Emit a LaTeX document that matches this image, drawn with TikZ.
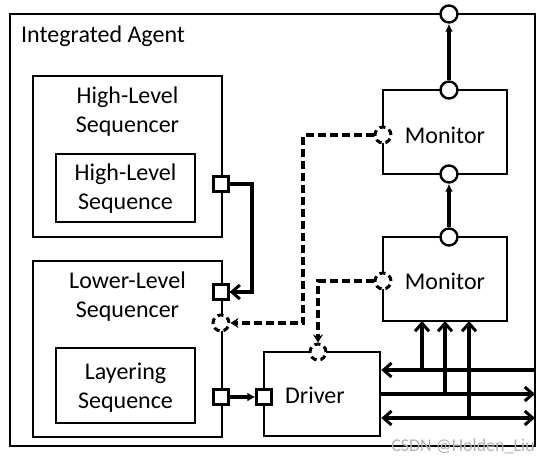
\documentclass[tikz,border=0pt]{standalone}
\usepackage{fontspec}
\setmainfont{Carlito}
\usetikzlibrary{arrows.meta}

\tikzset{
    box/.style={draw, line width=2.5pt, rectangle, inner sep=0pt},
    txt/.style={align=center, font=\fontsize{24}{29}\selectfont, inner sep=0pt},
    port/.style={draw, line width=2.2pt, fill=white, minimum size=15pt, inner sep=0pt},
    pin/.style={draw, circle, line width=2.4pt, fill=white, minimum size=17pt, inner sep=0pt},
    dpin/.style={pin, dash pattern=on 6pt off 4pt, line width=3pt, minimum size=16pt},
    flow/.style={line width=3.4pt},
    dflow/.style={line width=3.2pt, dash pattern=on 8pt off 4pt},
    barb/.style={-{Straight Barb[length=8pt,width=14pt,line width=3pt]}},
    dbarb/.style={{Straight Barb[length=8pt,width=14pt,line width=3pt]}-{Straight Barb[length=8pt,width=14pt,line width=3pt]}}
}

\begin{document}
\begin{tikzpicture}[x=1pt, y=-1pt]
    \useasboundingbox (0,0) rectangle (551,458);

    % Boxes
    \node[box, minimum width=525pt, minimum height=432pt] (agent) at (272.5,230) {};
    \node[txt, anchor=west] (agentlab) at (21,36) {Integrated Agent};

    \node[box, minimum width=189pt, minimum height=161pt] (hls) at (127.5,156.5) {};
    \node[txt] (hlslab) at (127.5,112) {High-Level\\Sequencer};
    \node[box, minimum width=139pt, minimum height=68pt] (hlseq) at (125.5,188) {};
    \node[txt] (hlseqlab) at (125.5,189) {High-Level\\Sequence};

    \node[box, minimum width=189pt, minimum height=176pt] (lls) at (127.5,349) {};
    \node[txt] (llslab) at (127.5,296.5) {Lower-Level\\Sequencer};
    \node[box, minimum width=139pt, minimum height=75pt] (layer) at (125.5,385.5) {};
    \node[txt] (layerlab) at (125.5,387.5) {Layering\\Sequence};

    \node[box, minimum width=116pt, minimum height=84pt] (drv) at (322,394) {};
    \node[txt] (drvlab) at (315,395) {Driver};

    \node[box, minimum width=124pt, minimum height=84pt] (mon1) at (445,132) {};
    \node[txt] (mon1lab) at (445,135) {Monitor};
    \node[box, minimum width=124pt, minimum height=84pt] (mon2) at (445,279) {};
    \node[txt] (mon2lab) at (445,281) {Monitor};

    % Bus ends on the agent border
    \coordinate (bus1) at (535,370);
    \coordinate (bus2) at (535,394);
    \coordinate (bus3) at (535,418);

    % Bus lines
    \draw[flow, barb] (bus1) -- (drv.east |- bus1);
    \draw[flow, barb] (drv.east |- bus2) -- (bus2);
    \draw[flow, dbarb] (drv.east |- bus3) -- (bus3);
    \foreach \xx/\yy in {422/370, 445/396, 469/418} {
        \draw[flow, barb] (\xx,\yy) -- (\xx,321);
    }

    % Ports
    \node[port] (hlsport) at (221,184) {};
    \node[port] (llsin) at (221,292) {};
    \node[port] (llsout) at (221,397) {};
    \node[port] (drvin) at (264,397) {};
    \node[dpin] (llsdp) at (221,323) {};
    \node[dpin] (drvdp) at (318,352) {};
    \node[dpin] (mon1dp) at (383,135) {};
    \node[dpin] (mon2dp) at (383,281) {};
    \node[pin] (outpin) at (449,14) {};
    \node[pin] (mon1top) at (449,90) {};
    \node[pin] (mon1bot) at (449,174) {};
    \node[pin] (mon2top) at (449,237) {};

    % Connections
    \draw[flow, barb] (hlsport.east) -- (252,184) |- (llsin.east);
    \draw[flow, -{Latex[length=8pt,width=9pt]}] (llsout.east) -- (drvin.west);
    \draw[dflow, -{Stealth[length=8pt,width=10pt]}] (mon1dp.west) -- (303,135) |- (llsdp.east);
    \draw[dflow, -{Stealth[length=8pt,width=10pt]}] (mon2dp.west) -| (drvdp.north);
    \draw[flow, -{Latex[length=8pt,width=8pt]}] (mon1top.north) -- (outpin.south);
    \draw[flow, -{Latex[length=8pt,width=8pt]}] (mon2top.north) -- (mon1bot.south);

    % Watermark
    \node[anchor=south east, text=gray!60, font=\fontsize{18}{20}\selectfont, inner sep=1pt] (wm) at (536,455) {CSDN @Holden\_Liu};
\end{tikzpicture}
\end{document}
